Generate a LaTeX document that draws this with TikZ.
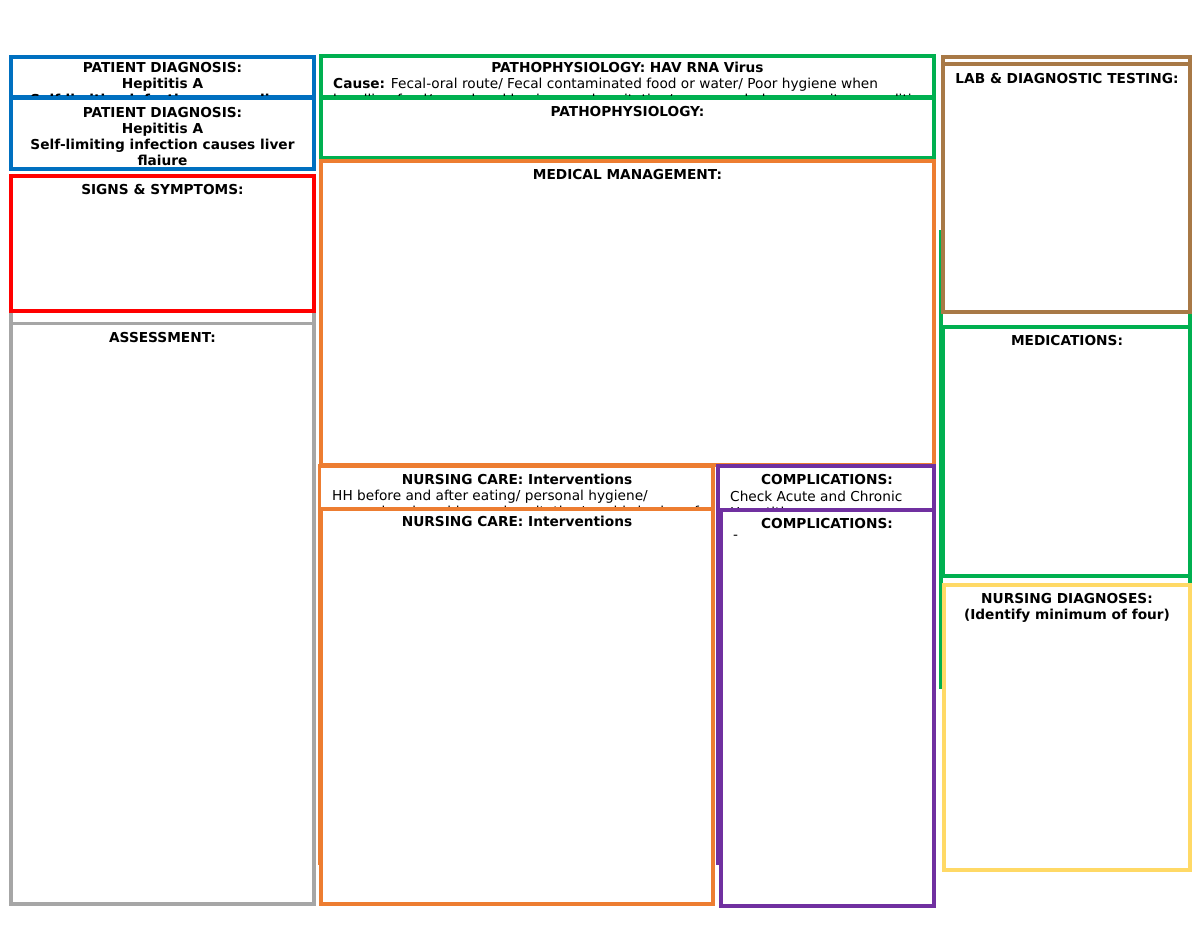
\documentclass[tikz,border=0pt]{standalone}
\usepackage{fontspec}
\setmainfont{DejaVu Sans}
\usetikzlibrary{positioning}
\definecolor{diagblue}{HTML}{0070C0}
\definecolor{pathgreen}{HTML}{00B050}
\definecolor{signred}{HTML}{FF0000}
\definecolor{assessgrey}{HTML}{A6A6A6}
\definecolor{careorange}{HTML}{ED7D31}
\definecolor{comppurple}{HTML}{7030A0}
\definecolor{labbrown}{RGB}{168,121,70}
\definecolor{diagyellow}{HTML}{FFD966}

\begin{document}
\begin{tikzpicture}[x=1pt,y=-1pt,
                    box/.style={draw=#1,fill=white,line width=3.5pt},
                    title/.style={anchor=north,inner sep=0pt,align=center,
                                  font=\fontsize{13.7}{16}\selectfont\bfseries},
                    body/.style={anchor=north west,inner sep=0pt,align=left,
                                 font=\fontsize{13.7}{16}\selectfont}]

  \fill[white] (0,0) rectangle (1200,927);
  \useasboundingbox (0,0) rectangle (1200,927);

  % left column
  \draw[box=diagblue] (11,57) rectangle (314,97);
  \begin{scope}
    \clip (13,59) rectangle (312,97);
    \node[title] (diag1) at (162.5,62) {PATIENT DIAGNOSIS:\\Hepititis A\\Self-limiting infection causes liver};
  \end{scope}
  \draw[box=diagblue] (11,98) rectangle (314,169);
  \node[title] (diag2) at (162.5,107) {PATIENT DIAGNOSIS:\\Hepititis A\\Self-limiting infection causes liver\\flaiure};

  \draw[box=assessgrey] (11,176) rectangle (314,340);
  \draw[box=signred,line width=4.5pt] (11,176) rectangle (314,311);
  \node[title] (signs) at (162.5,184) {SIGNS \& SYMPTOMS:};
  \draw[box=assessgrey] (11,323.5) rectangle (314,904);
  \node[title] (assess) at (162.5,332) {ASSESSMENT:};

  % middle column
  \draw[box=pathgreen] (321,56) rectangle (934,97);
  \node[title] (patho1) at (627.5,62) {PATHOPHYSIOLOGY: HAV RNA Virus};
  \begin{scope}
    \clip (323,58) rectangle (932,97);
    \node[body] (cause) at (333,78) {\textbf{Cause:} Fecal-oral route/ Fecal contaminated food or water/ Poor hygiene when\\handling food/ poor hand hygiene and sanitation/ overcrowded or unsanitary conditions};
  \end{scope}
  \draw[box=pathgreen] (321,98) rectangle (934,158);
  \node[title] (patho2) at (627.5,106) {PATHOPHYSIOLOGY:};

  \draw[box=careorange] (321,161) rectangle (934,465);
  \node[title] (medmgmt) at (627.5,169) {MEDICAL MANAGEMENT:};

  \draw[box=careorange] (319.5,466) rectangle (713,863);
  \node[title] (care1) at (517,474) {NURSING CARE: Interventions};
  \begin{scope}
    \clip (323,468) rectangle (711,508);
    \node[body] (handwash) at (332,490) {HH before and after eating/ personal hygiene/\\proper hand washing and sanitation/ avoid sharing of};
  \end{scope}
  \draw[box=careorange] (321,509) rectangle (713,904);
  \node[title] (care2) at (517,516) {NURSING CARE: Interventions};

  \draw[box=comppurple] (718,466) rectangle (934,863);
  \node[title] (comp1) at (827,474) {COMPLICATIONS:};
  \begin{scope}
    \clip (720,468) rectangle (932,508);
    \node[body] (chronic) at (730,491) {Check Acute and Chronic\\Hepatitis};
  \end{scope}
  \draw[box=comppurple] (721,510) rectangle (934,906);
  \node[title] (comp2) at (827,518) {COMPLICATIONS:};
  \node[body] (dash) at (733,535) {-};

  % right column
  \draw[box=pathgreen] (941,232) rectangle (1190,687);
  \draw[box=labbrown] (943,57) rectangle (1190,80);
  \draw[box=labbrown] (943,64) rectangle (1190,312);
  \node[title] (lab) at (1067,73) {LAB \& DIAGNOSTIC TESTING:};
  \draw[box=pathgreen] (943,327) rectangle (1190,576);
  \node[title] (meds) at (1067,335) {MEDICATIONS:};
  \draw[box=diagyellow] (944,585) rectangle (1190,870);
  \node[title] (nursdiag) at (1067,593) {NURSING DIAGNOSES:\\(Identify minimum of four)};
\end{tikzpicture}
\end{document}
